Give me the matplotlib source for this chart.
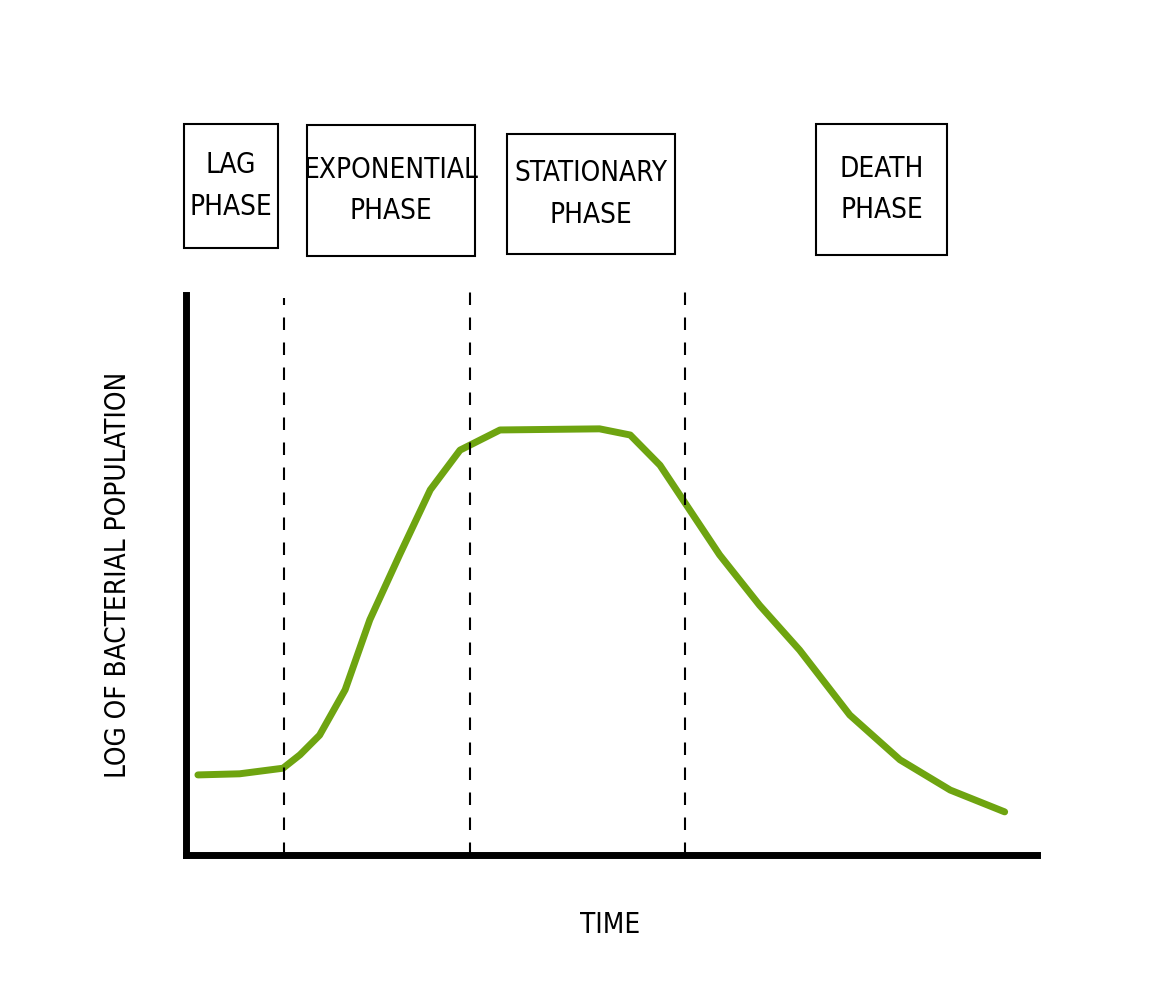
import matplotlib
matplotlib.use("Agg")
import matplotlib.pyplot as plt
from matplotlib.patches import Rectangle

# Data (time units 0-100, log population 0-100)
time = [1.4, 6.3, 11.4, 13.4, 15.7, 18.7, 21.6, 25.1, 28.7, 32.2, 36.9, 48.6,
        52.2, 55.7, 59.2, 62.7, 67.4, 72.1, 78.0, 83.9, 89.8, 96.2]
population = [14.3, 14.5, 15.5, 17.9, 21.4, 29.5, 42.0, 53.6, 65.2, 72.3, 75.9, 76.1,
              75.0, 69.6, 61.6, 53.6, 44.6, 36.6, 25.0, 17.0, 11.6, 7.7]
boundaries = [11.5, 33.4, 58.6]
boundary_tops = [99.5, 102, 102]
phase_labels = ["LAG\nPHASE", "EXPONENTIAL\nPHASE", "STATIONARY\nPHASE", "DEATH\nPHASE"]
# boxes in pixel coords (left, top, right, bottom)
boxes = [(184, 124, 278, 248), (307, 125, 475, 256), (507, 134, 675, 254), (816, 124, 947, 255)]

W, H = 1166, 999
fig = plt.figure(figsize=(W / 100, H / 100), dpi=100)
ax = fig.add_axes([186 / W, (H - 855) / H, (1037 - 186) / W, (855 - 295) / H])
ax.set_xlim(0, 100)
ax.set_ylim(0, 100)
ax.set_clip_on(False)

ax.plot(time, population, color="#6ea410", lw=5, solid_capstyle="round", clip_on=False)
for b, t in zip(boundaries, boundary_tops):
    ax.plot([b, b], [0, t], color="black", lw=1.5, ls=(0, (6, 6)), clip_on=False)

for s in ["top", "right"]:
    ax.spines[s].set_visible(False)
for s in ["left", "bottom"]:
    ax.spines[s].set_linewidth(5)
ax.set_xticks([])
ax.set_yticks([])

font = dict(family="DejaVu Sans", fontsize=20, fontstretch="condensed")
for lab, (l, t, r, b) in zip(phase_labels, boxes):
    fig.add_artist(Rectangle((l / W, 1 - b / H), (r - l) / W, (b - t) / H,
                             transform=fig.transFigure, fill=False, lw=1.5, ec="black"))
    fig.text((l + r) / 2 / W, 1 - (t + b) / 2 / H, lab, ha="center", va="center",
             linespacing=1.6, **font)

fig.text(118 / W, 1 - 575 / H, "LOG OF BACTERIAL POPULATION", rotation=90,
         ha="center", va="center", **font)
fig.text(610 / W, 1 - 925 / H, "TIME", ha="center", va="center", **font)

fig.savefig("out.png", dpi=100, facecolor="white")
